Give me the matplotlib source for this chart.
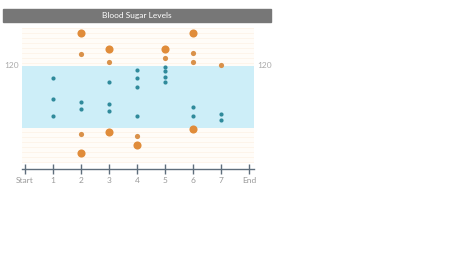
import numpy as np
import matplotlib.pyplot as plt
from matplotlib.patches import Rectangle

plt.rcParams['font.family'] = ['Lato', 'DejaVu Sans']

# x positions: 0 = Start, 8 = End
tick_labels = ['Start', '1', '2', '3', '4', '5', '6', '7', 'End']

# in-range readings (blue)
blue_x = [1, 1, 1, 2, 2, 3, 3, 3, 4, 4, 4, 4, 5, 5, 5, 5, 6, 6, 7, 7]
blue_y = [109.8, 93.1, 79.7, 91.0, 85.1, 106.6, 88.9, 83.7,
          116.5, 109.8, 103.1, 79.7, 119.2, 116.1, 110.9, 106.6,
          86.5, 79.7, 81.3, 76.2]

# out-of-range readings, small (orange)
small_x = [2, 2, 3, 4, 5, 6, 6, 7]
small_y = [129.2, 65.2, 123.2, 63.1, 126.5, 130.0, 123.2, 120.6]

# out-of-range readings, large (orange)
big_x = [2, 2, 3, 3, 4, 5, 6, 6]
big_y = [146.6, 49.8, 133.2, 66.5, 56.3, 133.2, 146.6, 69.0]

band_low, band_high = 70, 120

fig = plt.figure(figsize=(4.74, 2.66), dpi=100)
ax = fig.add_axes([22 / 474, 1 - 169 / 266, 232 / 474, 141 / 266])
ax.set_xlim(-0.11, 8.18)
ax.set_ylim(36.7, 150.4)

# pale striped background
ax.axhspan(42.3, 150.4, color='#fffcf8', zorder=0, lw=0)
for yy in np.arange(42.3, 150.4, 4.0):
    ax.axhline(yy, color='#fdf3e8', lw=0.6, zorder=0.5)
ax.axhspan(band_low, band_high, color='#cdeef8', zorder=1, lw=0)

ax.scatter(big_x, big_y, s=34, color='#e08c3a', zorder=3, lw=0)
ax.scatter(small_x, small_y, s=14, color='#d9914a', zorder=3, lw=0)
ax.scatter(blue_x, blue_y, s=9, color='#2f8a9b', zorder=3, lw=0)

for s in ['top', 'right', 'left']:
    ax.spines[s].set_visible(False)
ax.spines['bottom'].set_color('#5f6e7c')
ax.spines['bottom'].set_linewidth(1.0)
ax.set_yticks([])
ax.set_xticks(range(9))
ax.set_xticklabels(tick_labels)
ax.tick_params(axis='x', direction='inout', length=7, width=1.0,
               color='#5f6e7c', labelsize=6, labelcolor='#999999', pad=2)

# 120 labels on both sides
ax.text(-0.5, band_high, '120', ha='center', va='center', fontsize=6, color='#aaaaaa')
ax.text(8.55, band_high, '120', ha='center', va='center', fontsize=6, color='#aaaaaa')

# title bar
fig.patches.append(Rectangle((3 / 474, 1 - 22 / 266), 268 / 474, 13 / 266,
                             transform=fig.transFigure, color='#777777', zorder=0))
fig.text(137 / 474, 1 - 15.5 / 266, 'Blood Sugar Levels', ha='center', va='center',
         fontsize=6, color='white')

fig.savefig('out.png', dpi=100)
